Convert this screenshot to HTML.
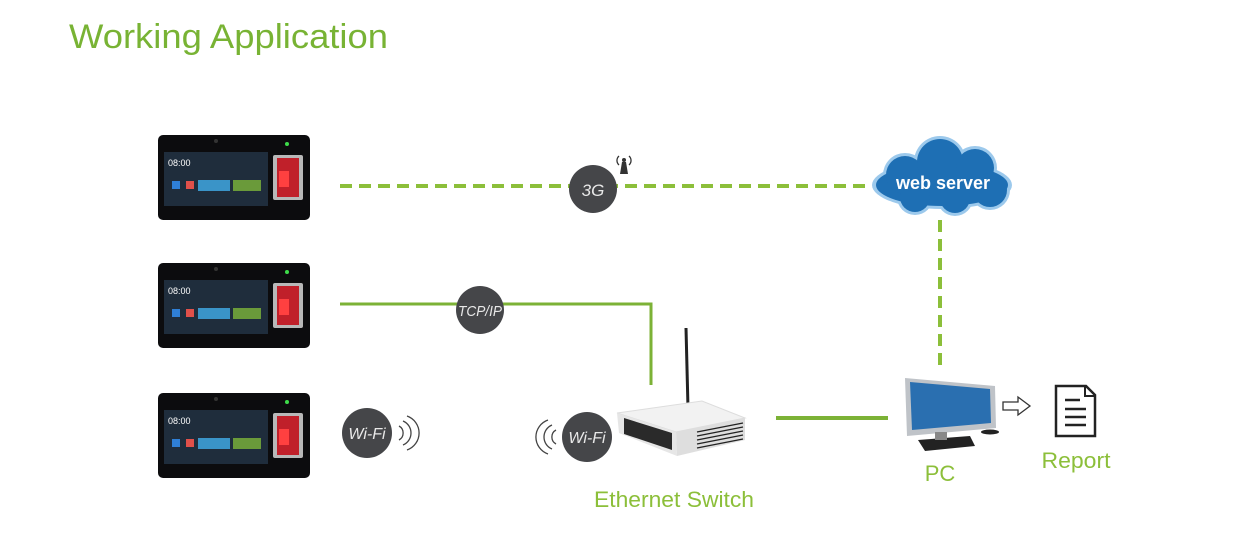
<!DOCTYPE html>
<html><head><meta charset="utf-8"><style>
html,body{margin:0;padding:0;background:#fff;}
svg{display:block;}
</style></head><body>
<svg width="1240" height="547" viewBox="0 0 1240 547" xmlns="http://www.w3.org/2000/svg">
<defs>
<g id="dev">
  <rect x="0" y="0" width="152" height="85" rx="5" fill="#0c0c0e"/>
  <rect x="6" y="17" width="104" height="54" fill="#1f2d3c"/>
  <text x="10" y="31" font-family="Liberation Sans, sans-serif" font-size="9" fill="#fff">08:00</text>
  <rect x="14" y="46" width="8" height="8" fill="#2f7fd6"/>
  <rect x="28" y="46" width="8" height="8" fill="#e0504a"/>
  <rect x="40" y="45" width="32" height="11" fill="#3a94c8"/>
  <rect x="75" y="45" width="28" height="11" fill="#6a9a3a"/>
  <rect x="115" y="20" width="30" height="45" rx="2" fill="#b8b8b8"/>
  <rect x="119" y="23" width="22" height="39" fill="#c0202a"/>
  <rect x="121" y="36" width="10" height="16" fill="#ff4040"/>
  <circle cx="129" cy="9" r="2" fill="#3ddc4a"/>
  <circle cx="58" cy="6" r="2" fill="#333"/>
</g>
</defs>

<text x="69" y="48" font-family="Liberation Sans, sans-serif" font-size="34" fill="#78b334" textLength="319" lengthAdjust="spacingAndGlyphs">Working Application</text>

<use href="#dev" x="158" y="135"/>
<use href="#dev" x="158" y="263"/>
<use href="#dev" x="158" y="393"/>

<line x1="340" y1="186" x2="870" y2="186" stroke="#8cbf3a" stroke-width="4" stroke-dasharray="12,7"/>
<line x1="940" y1="220" x2="940" y2="370" stroke="#8cbf3a" stroke-width="4" stroke-dasharray="12,7"/>
<polyline points="340,304 651,304 651,385" fill="none" stroke="#7cb236" stroke-width="3"/>
<line x1="776" y1="418" x2="888" y2="418" stroke="#7cb236" stroke-width="4"/>

<circle cx="593" cy="189" r="24" fill="#454649"/>
<text x="593" y="196" text-anchor="middle" font-family="Liberation Sans, sans-serif" font-size="17" font-style="italic" fill="#e8e8e8">3G</text>
<g stroke="#333" stroke-width="1.3" fill="none">
  <path d="M619,156 a6,6 0 0 0 0,9"/><path d="M629,156 a6,6 0 0 1 0,9"/>
</g>
<circle cx="624" cy="160" r="2" fill="#333"/>
<polygon points="622,162 626,162 628,174 620,174" fill="#333"/>

<circle cx="480" cy="310" r="24" fill="#454649"/>
<text x="480" y="316" text-anchor="middle" font-family="Liberation Sans, sans-serif" font-size="15" font-style="italic" fill="#e8e8e8" textLength="44" lengthAdjust="spacingAndGlyphs">TCP/IP</text>

<circle cx="367" cy="433" r="25" fill="#454649"/>
<text x="367" y="439" text-anchor="middle" font-family="Liberation Sans, sans-serif" font-size="16" font-style="italic" fill="#e8e8e8">Wi-Fi</text>
<g stroke="#444" stroke-width="1.3" fill="none">
  <path d="M399,426 a8,8 0 0 1 0,14"/>
  <path d="M403,421 a13,13 0 0 1 0,24"/>
  <path d="M407,416 a18,18 0 0 1 0,34"/>
</g>
<circle cx="587" cy="437" r="25" fill="#454649"/>
<text x="587" y="443" text-anchor="middle" font-family="Liberation Sans, sans-serif" font-size="16" font-style="italic" fill="#e8e8e8">Wi-Fi</text>
<g stroke="#444" stroke-width="1.3" fill="none">
  <path d="M556,430 a8,8 0 0 0 0,14"/>
  <path d="M552,425 a13,13 0 0 0 0,24"/>
  <path d="M548,420 a18,18 0 0 0 0,34"/>
</g>

<line x1="686" y1="328" x2="688" y2="408" stroke="#222" stroke-width="3"/>
<polygon points="617,413 702,401 745,418 676,432" fill="#f2f2f2" stroke="#ddd" stroke-width="1"/>
<polygon points="617,413 676,432 677,456 619,433" fill="#e6e6e6"/>
<polygon points="624,418 672,433 672,450 624,434" fill="#2a2a2a"/>
<rect x="677" y="437" width="13" height="10" fill="#5cc038"/>
<polygon points="676,432 745,418 745,440 677,456" fill="#dedede"/>
<g stroke="#222" stroke-width="1.3">
  <line x1="697" y1="432" x2="743" y2="423"/>
  <line x1="697" y1="436" x2="743" y2="427"/>
  <line x1="697" y1="440" x2="743" y2="431"/>
  <line x1="697" y1="444" x2="743" y2="435"/>
  <line x1="697" y1="448" x2="743" y2="439"/>
</g>
<text x="674" y="507" text-anchor="middle" font-family="Liberation Sans, sans-serif" font-size="22" fill="#8cbf3a" textLength="160" lengthAdjust="spacingAndGlyphs">Ethernet Switch</text>

<g fill="#9cc9ec">
  <ellipse cx="942" cy="185" rx="70" ry="24"/>
  <circle cx="905" cy="175" r="22"/>
  <circle cx="940" cy="162" r="26"/>
  <circle cx="975" cy="168" r="22"/>
  <circle cx="990" cy="190" r="20"/>
  <circle cx="915" cy="197" r="18"/>
  <circle cx="955" cy="198" r="18"/>
</g>
<g fill="#1e6fb4">
  <ellipse cx="942" cy="185" rx="66" ry="21"/>
  <circle cx="905" cy="175" r="19"/>
  <circle cx="940" cy="162" r="23"/>
  <circle cx="975" cy="168" r="19"/>
  <circle cx="990" cy="190" r="17"/>
  <circle cx="915" cy="197" r="15"/>
  <circle cx="955" cy="198" r="15"/>
</g>
<text x="943" y="189" text-anchor="middle" font-family="Liberation Sans, sans-serif" font-size="18" font-weight="bold" fill="#fff">web server</text>

<polygon points="905,378 995,386 996,428 907,436" fill="#bfc3c8"/>
<polygon points="910,382 990,389 991,423 912,430" fill="#2a6fb0"/>
<polygon points="918,440 970,436 975,446 925,451" fill="#222"/>
<rect x="935" y="432" width="12" height="8" fill="#888"/>
<ellipse cx="990" cy="432" rx="9" ry="2.5" fill="#222"/>
<text x="940" y="481" text-anchor="middle" font-family="Liberation Sans, sans-serif" font-size="22" fill="#8cbf3a">PC</text>

<polygon points="1003,402 1018,402 1018,397 1030,406 1018,415 1018,410 1003,410" fill="none" stroke="#333" stroke-width="1.3"/>

<path d="M1056,386 L1086,386 L1095,395 L1095,436 L1056,436 Z" fill="#fff" stroke="#222" stroke-width="2.5"/>
<path d="M1085,386 L1085,396 L1095,396" fill="none" stroke="#222" stroke-width="2"/>
<g stroke="#222" stroke-width="2.5">
  <line x1="1065" y1="400" x2="1080" y2="400"/>
  <line x1="1065" y1="409" x2="1086" y2="409"/>
  <line x1="1065" y1="417" x2="1086" y2="417"/>
  <line x1="1065" y1="425" x2="1086" y2="425"/>
</g>
<text x="1076" y="468" text-anchor="middle" font-family="Liberation Sans, sans-serif" font-size="22" fill="#8cbf3a" textLength="69" lengthAdjust="spacingAndGlyphs">Report</text>
</svg>
</body></html>
